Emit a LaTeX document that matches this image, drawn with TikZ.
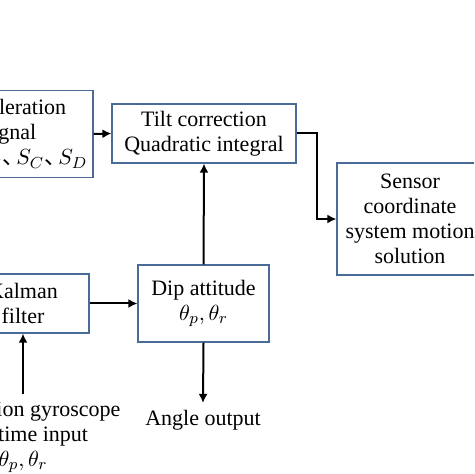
\documentclass[tikz,border=0pt]{standalone}
\usepackage{fontspec}
\setmainfont{Liberation Serif}
\newfontfamily\cjk{Noto Sans CJK SC}
\usetikzlibrary{arrows.meta}
\definecolor{boxblue}{HTML}{4A6A98}
\newcommand{\dun}{\makebox[0.65em][l]{\cjk 、}}

\begin{document}
\begin{tikzpicture}[x=0.5pt, y=-0.5pt,
    font=\fontsize{11}{12.5}\selectfont,
    block/.style={draw=boxblue, line width=0.6pt, align=center, inner sep=0pt},
    flow/.style={line width=1pt, -{Latex[length=4.5pt,width=4.5pt]}}]
    \useasboundingbox (0,0) rectangle (474,474);
    \clip (0,0) rectangle (474,474);
    \fill[white] (0,0) rectangle (474,474);
    % boxes
    \node [block, minimum width=83pt, minimum height=43.5pt] (accel) at (10,134)
      {Acceleration\\ signal\\ $S_A$\dun$S_B$\dun$S_C$\dun$S_D$};
    \node [block, minimum width=92pt, minimum height=29.5pt] (tilt) at (204,133.5)
      {Tilt correction\\ Quadratic integral};
    \node [block, minimum width=73pt, minimum height=56pt] (sensor) at (410,219)
      {Sensor\\ coordinate\\ system motion\\ solution};
    \node [block, minimum width=66pt, minimum height=29.5pt] (kalman) at (23,303.5)
      {Kalman\\ filter};
    \node [block, minimum width=65.5pt, minimum height=38.5pt] (dip) at (203.5,303.5)
      {Dip attitude\\ $\theta_p,\theta_r$};
    \node [align=center] (angle) at (203,420) {Angle output};
    \node [align=center, anchor=north] (gyro) at (23,394)
      {Calibration gyroscope\\ real-time input\\ $\theta_p,\theta_r$};
    \coordinate (turn) at (317,133.5);
    % connectors
    \draw [flow] (accel.east) -- (tilt.west);
    \draw [flow] (tilt.east) -- (turn) |- (sensor.west);
    \draw [flow] (dip.north) -- (tilt.south);
    \draw [flow] (kalman.east) -- (dip.west);
    \draw [flow] (dip.south) -- (angle.north);
    \draw [flow] (gyro.north) -- (kalman.south);
\end{tikzpicture}
\end{document}
